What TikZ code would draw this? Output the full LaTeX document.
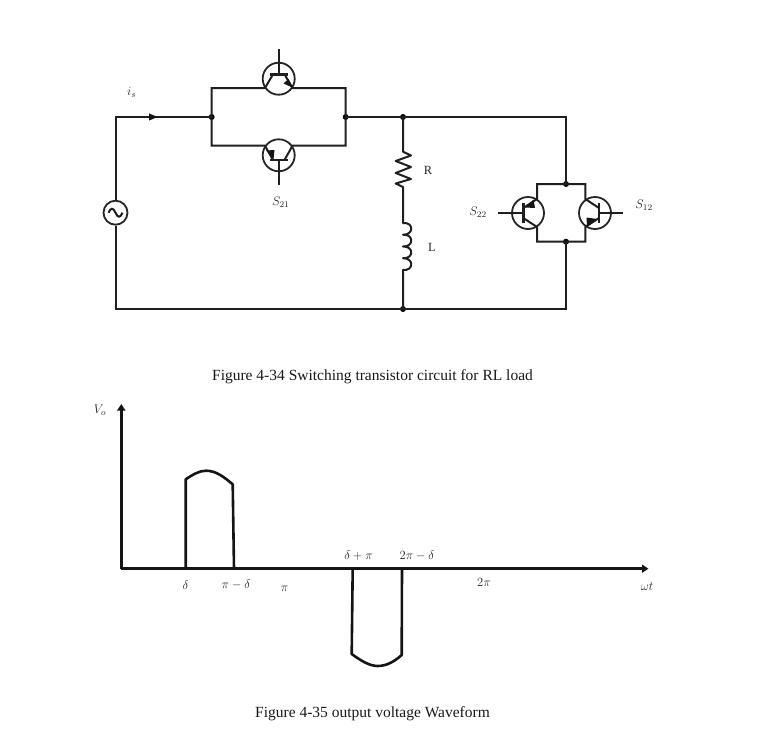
\RequirePackage{fix-cm}
\documentclass[tikz,border=0pt]{standalone}
\usepackage{fontspec}
\setmainfont{Liberation Serif}
\usetikzlibrary{arrows.meta}
\tikzset{
  wire/.style={line width=2pt,black!88,line join=miter},
  bar/.style={line width=2.6pt,black!88},
  thick wire/.style={line width=3.2pt,black!92},
  wave/.style={line width=2.6pt,black!92,line join=round},
  dotj/.style={circle,fill=black,inner sep=0pt,minimum size=6pt},
  ring/.style={circle,draw=black!85,line width=1.8pt,inner sep=0pt,minimum size=32pt},
  lab/.style={inner sep=0pt,text=black!85,font=\fontsize{12.5}{14}\selectfont},
  figcap/.style={inner sep=0pt,text=black!90,font=\fontsize{15.5}{18}\selectfont},
  tip/.style={fill=black!92,draw=none}
}
\begin{document}
\begin{tikzpicture}[x=1pt,y=-1pt]
\useasboundingbox (0,0) rectangle (764,737);
% junctions
\node[dotj] (jl) at (211.7,117) {};
\node[dotj] (jr) at (345.7,117) {};
\node[dotj] (jt) at (403,117) {};
\node[dotj] (jb) at (403,309) {};
\node[dotj] (jbt) at (566,184) {};
\node[dotj] (jbb) at (566,241.7) {};
% source
\node[ring,minimum size=24pt] (src) at (115.5,212.7) {};
\draw[wire] (108.5,212.7) .. controls (110.5,207.5) and (113.5,207.5) .. (115.5,212.7) .. controls (117.5,218) and (120.5,218) .. (122.5,212.7);
\coordinate (cTL) at (115.5,117);
\coordinate (cBL) at (115.5,309);
\coordinate (cTR) at (566,117);
\coordinate (cBR) at (566,309);
\draw[wire] (src.north) -- (cTL) -- (jl.center);
\draw[wire] (src.south) -- (cBL) -- (jb.center) -- (cBR) -- (jbb.center);
\draw[wire] (jr.center) -- (jt.center) -- (cTR) -- (jbt.center);
\fill[tip] (149,113.4) -- (157.5,117) -- (149,120.6) -- cycle;
% top transistor
\node[ring] (q1) at (278.7,78.7) {};
\coordinate (q1bt) at (278.7,49);
\coordinate (q1bb) at (278.7,74.3);
\coordinate (q1a) at (270,74.3);
\coordinate (q1b) at (287.5,74.3);
\coordinate (q1l) at (273,74.3);
\coordinate (q1r) at (284.5,74.3);
\coordinate (q1le) at (265,88);
\coordinate (q1re) at (292.5,88);
\coordinate (bTL) at (211.7,88);
\coordinate (bTR) at (345.7,88);
\draw[wire] (q1bt) -- (q1bb);
\draw[bar] (q1a) -- (q1b);
\draw[wire] (q1l) -- (q1le) -- (bTL) -- (jl.center);
\draw[wire] (q1r) -- (q1re) -- (bTR) -- (jr.center);
\fill[tip] (292.5,87.5) -- (283.5,83.5) -- (288.5,79) -- cycle;
% bottom transistor
\node[ring] (q2) at (278.7,155.3) {};
\coordinate (q2bt) at (278.7,185);
\coordinate (q2bb) at (278.7,160);
\coordinate (q2a) at (270,160);
\coordinate (q2b) at (287.5,160);
\coordinate (q2l) at (273,160);
\coordinate (q2r) at (284.5,160);
\coordinate (q2le) at (265,145.7);
\coordinate (q2re) at (292.5,145.7);
\coordinate (bBL) at (211.7,145.7);
\coordinate (bBR) at (345.7,145.7);
\draw[wire] (q2bt) -- (q2bb);
\draw[bar] (q2a) -- (q2b);
\draw[wire] (q2l) -- (q2le) -- (bBL) -- (jl.center);
\draw[wire] (q2r) -- (q2re) -- (bBR) -- (jr.center);
\fill[tip] (273.5,159) -- (266,150.5) -- (274.5,150) -- cycle;
% R and L
\coordinate (rt) at (403,151.7);
\coordinate (rb) at (403,187);
\coordinate (lt) at (403,223);
\coordinate (lb) at (403,270);
\draw[wire,line join=round] (jt.center) -- (rt) -- (411,155.5) -- (395.7,161) -- (411,167) -- (395.7,173) -- (411,179) -- (395.7,183.5) -- (rb) -- (lt)
  .. controls (414,222) and (414,235) .. (403,234.7)
  .. controls (414,234) and (414,247) .. (403,246.5)
  .. controls (414,246) and (414,259) .. (403,258.2)
  .. controls (414,258) and (414,271) .. (lb) -- (jb.center);
% left transistor of the right pair
\node[ring] (q3) at (528,213) {};
\coordinate (q3bo) at (498.3,213);
\coordinate (q3bi) at (523.3,213);
\coordinate (q3a) at (523.3,203);
\coordinate (q3b) at (523.3,222.5);
\coordinate (q3u) at (523.3,208);
\coordinate (q3d) at (523.3,218);
\coordinate (q3ue) at (537,199);
\coordinate (q3de) at (537,227);
\coordinate (bRTL) at (537,184);
\coordinate (bRBL) at (537,241.7);
\draw[wire] (q3bo) -- (q3bi);
\draw[bar] (q3a) -- (q3b);
\draw[wire] (q3u) -- (q3ue) -- (bRTL) -- (jbt.center);
\draw[wire] (q3d) -- (q3de) -- (bRBL) -- (jbb.center);
\fill[tip] (525.5,207.5) -- (533.5,199.5) -- (535,208) -- cycle;
% right transistor of the right pair
\node[ring] (q4) at (595,213) {};
\coordinate (q4bo) at (622.7,213);
\coordinate (q4bi) at (599,213);
\coordinate (q4a) at (599,203);
\coordinate (q4b) at (599,222.5);
\coordinate (q4u) at (599,208);
\coordinate (q4d) at (599,218);
\coordinate (q4ue) at (585.3,199);
\coordinate (q4de) at (585.3,227);
\coordinate (bRTR) at (585.3,184);
\coordinate (bRBR) at (585.3,241.7);
\draw[wire] (q4bo) -- (q4bi);
\draw[bar] (q4a) -- (q4b);
\draw[wire] (q4u) -- (q4ue) -- (bRTR) -- (jbt.center);
\draw[wire] (q4d) -- (q4de) -- (bRBR) -- (jbb.center);
\fill[tip] (597,219) -- (587,226.5) -- (586.5,217.5) -- cycle;
% circuit labels
\node[lab] (lis) at (131.7,92.7) {$i_s$};
\node[lab] (ls21) at (280.7,202) {$S_{21}$};
\node[lab] (ls22) at (478,212.2) {$S_{22}$};
\node[lab] (ls12) at (644,205.5) {$S_{12}$};
\node[lab] (lR) at (428,170) {R};
\node[lab] (lL) at (432,247) {L};
\node[figcap] (c1) at (372.5,377) {Figure 4-34 Switching transistor circuit for RL load};
% waveform
\coordinate (o) at (121.3,568.7);
\coordinate (yt) at (121.3,404);
\coordinate (xe) at (648.5,568.7);
\draw[thick wire,-{Triangle[length=6.5pt,width=8pt]}] (o) -- (yt);
\draw[thick wire,-{Triangle[length=6.5pt,width=8pt]}] (o) -- (xe);
\coordinate (p1) at (185.7,568.7);
\coordinate (p2) at (185.7,479.3);
\coordinate (p3) at (232.7,484.3);
\coordinate (p4) at (234,568.7);
\draw[wave] (p1) -- (p2) .. controls (192,475) and (199,470.7) .. (206,470.7) .. controls (216,470.7) and (224,477) .. (p3) -- (p4);
\coordinate (n1) at (352.7,568.7);
\coordinate (n2) at (351.7,654);
\coordinate (n3) at (401.7,655);
\coordinate (n4) at (402,568.7);
\draw[wave] (n1) -- (n2) .. controls (360,660) and (369,666) .. (377.7,666) .. controls (387,666) and (395,661) .. (n3) -- (n4);
\node[lab] (lvo) at (100,410.5) {$V_o$};
\node[lab] (ld) at (185.5,585) {$\delta$};
\node[lab] (lpd) at (236,584.5) {$\pi-\delta$};
\node[lab] (lpi) at (284.5,588.5) {$\pi$};
\node[lab] (ldp) at (358.5,556) {$\delta+\pi$};
\node[lab] (l2pd) at (417,555.5) {$2\pi-\delta$};
\node[lab] (l2p) at (484,582.5) {$2\pi$};
\node[lab] (lwt) at (647,587) {$\omega t$};
\node[figcap] (c2) at (372.5,714) {Figure 4-35 output voltage Waveform};
\end{tikzpicture}
\end{document}
